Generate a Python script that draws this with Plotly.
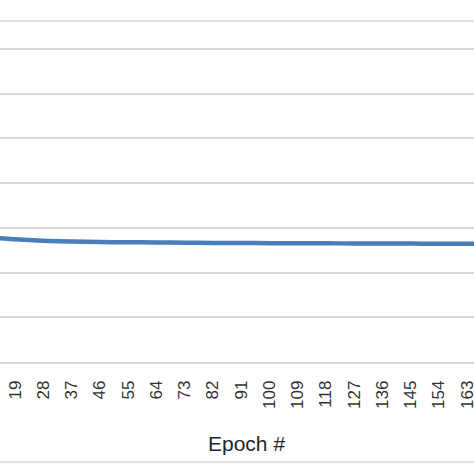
import plotly.graph_objects as go

epochs = [1, 10, 19, 28, 37, 46, 55, 64, 73, 82, 91, 100, 109, 118, 127, 136, 145, 154, 163, 172]
loss = [0.300, 0.2795, 0.2746, 0.2712, 0.2694, 0.2683, 0.2679, 0.2674, 0.2668, 0.2663,
        0.2660, 0.2658, 0.2656, 0.2654, 0.2652, 0.2650, 0.2648, 0.2646, 0.2645, 0.2644]
tick_labels = [str(e) for e in epochs]
y_grid = [0.0, 0.1, 0.2, 0.3, 0.4, 0.5, 0.6, 0.7]

fig = go.Figure()
fig.add_trace(go.Scatter(
    x=epochs, y=loss, mode="lines",
    line=dict(color="#4a7ebb", width=4.5, shape="spline", smoothing=0.6),
    showlegend=False,
))

grid_col = "#d9d9d9"
plot_h = 474 - 112 - 45  # 317 px
fig.update_layout(
    width=474, height=474,
    margin=dict(l=0, r=0, t=45, b=112),
    paper_bgcolor="white", plot_bgcolor="white",
    font=dict(family="Liberation Sans, Arial, sans-serif", color="#404040"),
    xaxis=dict(
        range=[14.22, 165.23], automargin=False,
        tickmode="array", tickvals=epochs, ticktext=tick_labels,
        tickangle=-90, tickfont=dict(size=17, color="#333333"),
        showgrid=False, zeroline=False,
        showline=True, linecolor=grid_col, linewidth=1.5,
        ticks="", ticklabelstandoff=10, ticklabeloverflow="allow",
    ),
    yaxis=dict(
        range=[0, 0.7 * plot_h / 313], tickmode="array", automargin=False,
        tickvals=y_grid,
        showgrid=True, gridcolor=grid_col, gridwidth=1.5,
        showticklabels=False, zeroline=False, showline=False, ticks="",
    ),
    annotations=[dict(
        text="Epoch #", xref="paper", yref="paper",
        x=0.519, y=-81 / plot_h, xanchor="center", yanchor="middle",
        showarrow=False, font=dict(size=21, color="#262626"),
    )],
    shapes=[
        dict(type="line", xref="paper", yref="paper", x0=0, x1=1,
             y0=(362 - 21) / plot_h, y1=(362 - 21) / plot_h,
             line=dict(color=grid_col, width=1.5)),
        dict(type="line", xref="paper", yref="paper", x0=0, x1=1,
             y0=-(462 - 362) / plot_h, y1=-(462 - 362) / plot_h,
             line=dict(color=grid_col, width=1.5)),
    ],
)

fig.write_html(
    "out.html",
    config={"displayModeBar": False},
    post_script="document.body.style.margin='0';document.body.style.overflow='hidden';",
)
